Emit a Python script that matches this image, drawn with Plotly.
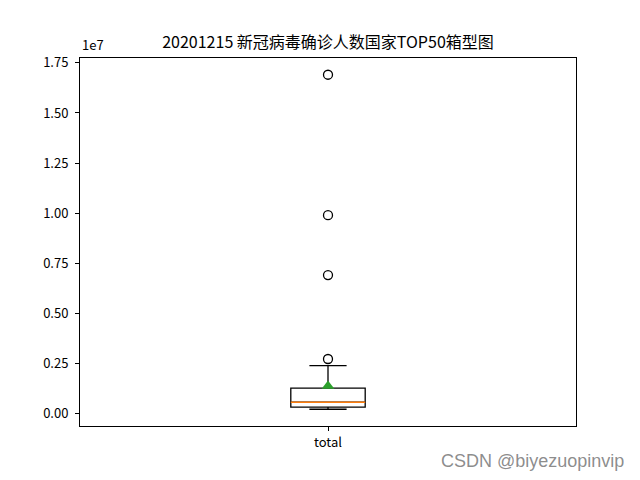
import numpy as np
import plotly.graph_objects as go

# Confirmed cases (top 50 countries), 2020-12-15 (approx.)
countries = [
    "US", "India", "Brazil", "Russia", "France", "Turkey", "UK", "Italy", "Spain", "Argentina",
    "Colombia", "Germany", "Mexico", "Poland", "Iran", "Peru", "Ukraine", "South Africa", "Netherlands", "Indonesia",
    "Belgium", "Czechia", "Iraq", "Chile", "Romania", "Bangladesh", "Canada", "Philippines", "Pakistan", "Morocco",
    "Switzerland", "Israel", "Saudi Arabia", "Portugal", "Sweden", "Austria", "Hungary", "Serbia", "Jordan", "Nepal",
    "Panama", "Georgia", "Ecuador", "UAE", "Japan", "Azerbaijan", "Croatia", "Bulgaria", "Belarus", "Kazakhstan",
]
total = [
    16910000, 9900000, 6910000, 2720000, 2390000, 1800000, 1800000, 1780000, 1600000, 1450000,
    1440000, 1360000, 1270000, 1240000, 1120000, 900000, 800000, 750000, 600000, 590000,
    590000, 580000, 580000, 570000, 565000, 555000, 490000, 470000, 450000, 440000,
    400000, 390000, 360000, 360000, 360000, 340000, 330000, 310000, 300000, 280000,
    280000, 260000, 250000, 250000, 240000, 230000, 230000, 220000, 220000, 210000,
]
category = "total"
y_tick_vals = [0, 2.5e6, 5.0e6, 7.5e6, 1.0e7, 1.25e7, 1.5e7, 1.75e7]
y_tick_text = ["0.00", "0.25", "0.50", "0.75", "1.00", "1.25", "1.50", "1.75"]
title = "20201215 新冠病毒确诊人数国家TOP50箱型图"

data = np.array(total, dtype=float)
q1, med, q3 = np.percentile(data, [25, 50, 75])
iqr = q3 - q1
inside = data[(data >= q1 - 1.5 * iqr) & (data <= q3 + 1.5 * iqr)]
lo_w, hi_w = inside.min(), inside.max()
outliers = data[(data < lo_w) | (data > hi_w)]
mean = data.mean()

pos = 1.0
bw = 0.15
FONT = "Noto Sans CJK SC, SimHei, DejaVu Sans"

fig = go.Figure()
fig.add_trace(go.Box(
    x=[pos], q1=[q1], median=[med], q3=[q3], lowerfence=[lo_w], upperfence=[hi_w],
    width=bw, whiskerwidth=0.5, boxpoints=False,
    line=dict(color="black", width=1.3), fillcolor="rgba(255,255,255,0)",
    showlegend=False, hoverinfo="skip",
))
# orange median line
fig.add_trace(go.Scatter(
    x=[pos - bw / 2, pos + bw / 2], y=[med, med], mode="lines",
    line=dict(color="#ff7f0e", width=1.3), showlegend=False, hoverinfo="skip",
))
# outliers
fig.add_trace(go.Scatter(
    x=[pos] * len(outliers), y=outliers, mode="markers",
    marker=dict(symbol="circle", size=9, color="white", line=dict(color="black", width=1.3)),
    showlegend=False,
))
# mean
fig.add_trace(go.Scatter(
    x=[pos], y=[mean], mode="markers",
    marker=dict(symbol="triangle-up", size=11, color="#2ca02c", line=dict(width=0)),
    showlegend=False,
))

span = data.max() - data.min()
yr = [data.min() - 0.05 * span, data.max() + 0.05 * span]

fig.update_layout(
    width=640, height=480,
    margin=dict(l=80, r=64, t=58, b=54),
    paper_bgcolor="white", plot_bgcolor="white",
    font=dict(family=FONT, size=13, color="black"),
    title=dict(text=title, x=328 / 640, xanchor="center", y=1 - 42 / 480, yanchor="middle",
               font=dict(family=FONT, size=16, color="black")),
    xaxis=dict(range=[0.5, 1.5], tickvals=[pos], ticktext=[category], showgrid=False, zeroline=False,
               showline=True, linecolor="black", linewidth=1, mirror=True,
               ticks="outside", ticklen=4, tickcolor="black", tickfont=dict(size=13)),
    yaxis=dict(range=yr, tickvals=y_tick_vals, ticktext=y_tick_text, showgrid=False, zeroline=False,
               showline=True, linecolor="black", linewidth=1, mirror=True,
               ticks="outside", ticklen=4, tickcolor="black", tickfont=dict(size=13),
               ticklabelstandoff=4),
    annotations=[
        dict(text="1e7", xref="paper", yref="paper", x=0, y=1, xanchor="left", yanchor="bottom",
             yshift=2, showarrow=False, font=dict(family=FONT, size=13)),
        dict(text="CSDN @biyezuopinvip", xref="paper", yref="paper", x=(626 - 80) / 496,
             y=(426 - 461) / 368, xanchor="right", yanchor="middle", showarrow=False,
             font=dict(family="Liberation Sans, Arial", size=18, color="rgba(120,120,120,0.85)")),
    ],
)

fig.write_html("out.html", config={"displayModeBar": False},
               post_script="document.body.style.margin='0';")
